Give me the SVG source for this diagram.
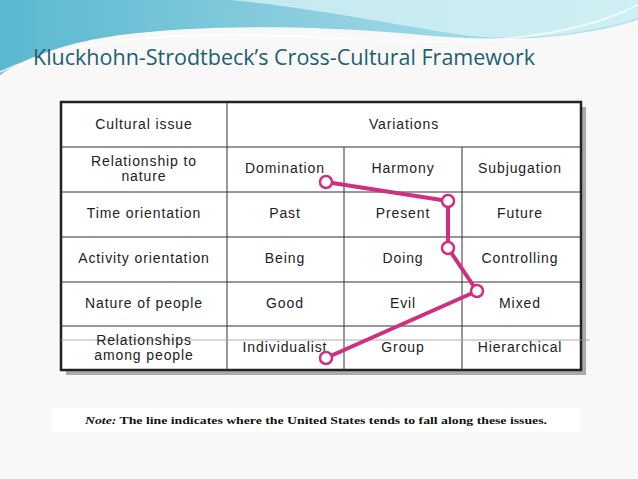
<svg xmlns="http://www.w3.org/2000/svg" width="638" height="479" viewBox="0 0 638 479">
<defs>
<linearGradient id="wave" x1="0" y1="0" x2="1" y2="0">
<stop offset="0" stop-color="#5ab8cf"/><stop offset="0.5" stop-color="#8ccfe0"/><stop offset="1" stop-color="#b4e6ee"/>
</linearGradient>
<style>
.t{font-family:"Liberation Sans",Arial,sans-serif;font-size:14px;letter-spacing:0.9px;fill:#222;text-anchor:middle}
.g{stroke:#333;stroke-width:1;fill:none}
.m{fill:#fff;stroke:#d02f80;stroke-width:2.5}
</style>
</defs>
<rect width="638" height="479" fill="#f8f8f8"/>
<path d="M0,0 H638 V20 C560,45 470,40 400,33 C300,25 200,25 120,35 C70,42 30,55 0,75 Z" fill="url(#wave)"/>
<path d="M230,0 C330,10 420,30 470,36 C540,42 600,30 638,18 V0 Z" fill="#d5f1f4" opacity="0.8"/>
<path d="M0,72 C80,35 200,30 330,38 C450,45 560,45 638,5" fill="none" stroke="#ffffff" stroke-width="2" opacity="0.7"/>
<text x="33" y="65" font-family="'Open Sans',sans-serif" font-size="21" fill="#1d5f70" textLength="502" lengthAdjust="spacingAndGlyphs">Kluckhohn-Strodtbeck’s Cross-Cultural Framework</text>
<g id="table">
<rect x="66" y="107" width="520" height="268" fill="#aaa"/>
<rect x="61" y="102" width="520" height="268" fill="#fff" stroke="#222" stroke-width="2.5"/>
<path class="g" d="M61,147H581M61,192H581M61,237H581M61,282H581M61,326H581M227,102V370M344,147V370M462,147V370"/>
<path d="M61,340H590" stroke="#999" stroke-width="0.8"/>
</g>
<g id="labels">
<text class="t" x="144" y="129">Cultural issue</text>
<text class="t" x="404" y="129">Variations</text>
<text class="t" x="144" y="166">Relationship to</text>
<text class="t" x="144" y="181">nature</text>
<text class="t" x="285" y="173">Domination</text>
<text class="t" x="403" y="173">Harmony</text>
<text class="t" x="520" y="173">Subjugation</text>
<text class="t" x="144" y="218">Time orientation</text>
<text class="t" x="285" y="218">Past</text>
<text class="t" x="403" y="218">Present</text>
<text class="t" x="520" y="218">Future</text>
<text class="t" x="144" y="263">Activity orientation</text>
<text class="t" x="285" y="263">Being</text>
<text class="t" x="403" y="263">Doing</text>
<text class="t" x="520" y="263">Controlling</text>
<text class="t" x="144" y="308">Nature of people</text>
<text class="t" x="285" y="308">Good</text>
<text class="t" x="403" y="308">Evil</text>
<text class="t" x="520" y="308">Mixed</text>
<text class="t" x="144" y="345">Relationships</text>
<text class="t" x="144" y="360">among people</text>
<text class="t" x="285" y="352">Individualist</text>
<text class="t" x="403" y="352">Group</text>
<text class="t" x="520" y="352">Hierarchical</text>
</g>
<g id="connectors">
<polyline points="326,182 448,201 448,248 477,291 326,358" fill="none" stroke="#d02f80" stroke-width="4" stroke-linejoin="round"/>
<circle class="m" cx="326" cy="182" r="6"/>
<circle class="m" cx="448" cy="201" r="6"/>
<circle class="m" cx="448" cy="248" r="6"/>
<circle class="m" cx="477" cy="291" r="6"/>
<circle class="m" cx="326" cy="358" r="6"/>
</g>
<g id="note">
<rect x="52" y="408" width="528" height="24" fill="#fff"/>
<text x="85" y="424" font-family="'Liberation Serif',serif" font-size="11" font-weight="bold" fill="#111" textLength="462" lengthAdjust="spacingAndGlyphs"><tspan font-style="italic">Note:</tspan> The line indicates where the United States tends to fall along these issues.</text>
</g>
</svg>
